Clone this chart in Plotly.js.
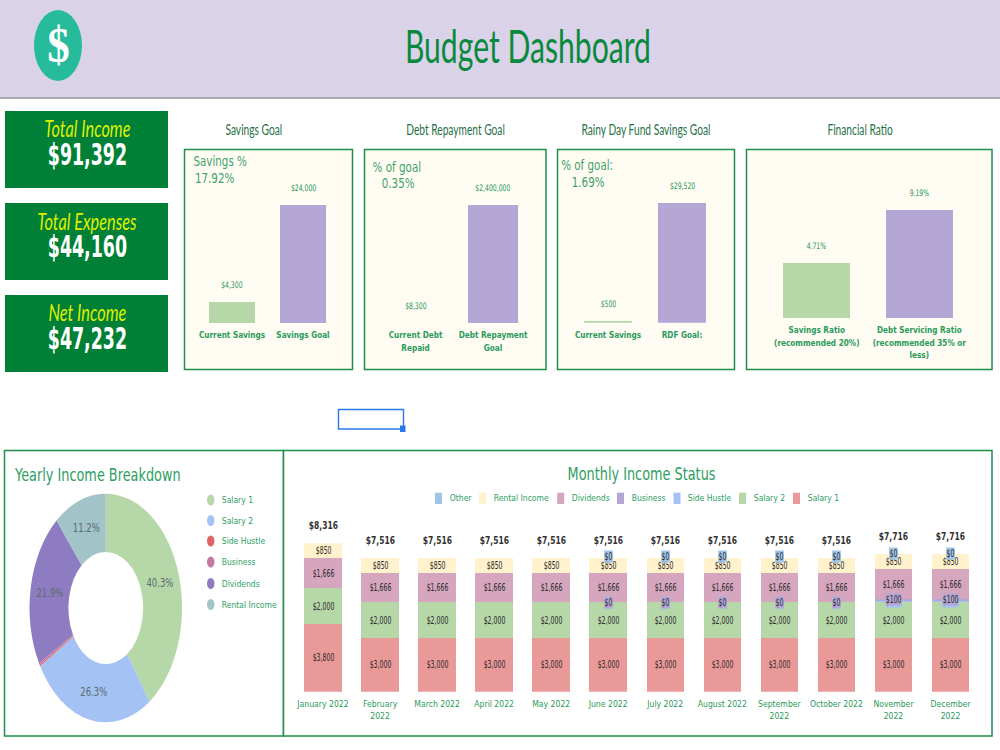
<!DOCTYPE html>
<html><head><meta charset="utf-8">
<script src="https://cdn.plot.ly/plotly-3.0.1.min.js"></script>
<style>html,body{margin:0;padding:0;background:#fff}#c{width:1000px;height:750px}</style>
</head><body><div id="c"></div>
<script>
// ---- data ----
const savingsCats = ['Current Savings','Savings Goal'];
const savingsVals = [4300,24000];
const savingsText = ['$4,300','$24,000'];
const debtCats = ['Current Debt<br>Repaid','Debt Repayment<br>Goal'];
const debtVals = [8300,2400000];
const debtText = ['$8,300','$2,400,000'];
const rdfCats = ['Current Savings','RDF Goal:'];
const rdfVals = [500,29520];
const rdfText = ['$500','$29,520'];
const ratioCats = ['Savings Ratio<br>(recommended 20%)','Debt Servicing Ratio<br>(recommended 35% or<br>less)'];
const ratioVals = [4.71,9.19];
const ratioText = ['4.71%','9.19%'];

const pieLabels = ['Salary 1','Salary 2','Side Hustle','Business','Dividends','Rental Income'];
const pieVals = [36800,24000,200,200,19992,10200];
const pieText = ['40.3%','26.3%','','','21.9%','11.2%'];
const pieColors = ['#B6D7A8','#A4C2F4','#E06666','#C27BA0','#8E7CC3','#A2C4C9'];

const months = ['January 2022','February<br>2022','March 2022','April 2022','May 2022','June 2022','July 2022','August 2022','September<br>2022','October 2022','November<br>2022','December<br>2022'];
const salary1 = [3800,3000,3000,3000,3000,3000,3000,3000,3000,3000,3000,3000];
const salary2 = [2000,2000,2000,2000,2000,2000,2000,2000,2000,2000,2000,2000];
const sideHustle = [null,null,null,null,null,0,0,0,0,0,100,100];
const business = [null,null,null,null,null,0,0,0,0,0,100,100];
const dividends = [1666,1666,1666,1666,1666,1666,1666,1666,1666,1666,1666,1666];
const rental = [850,850,850,850,850,850,850,850,850,850,850,850];
const other = [null,null,null,null,null,0,0,0,0,0,0,0];
const totals = [8316,7516,7516,7516,7516,7516,7516,7516,7516,7516,7716,7716];

// ---- style ----
const GREEN='#1F8F4E', TXT='#2E9E5F', PANEL='#FFFCF3';
const F='"DejaVu Sans", Verdana, sans-serif', C='Lato, sans-serif';
const W=1000,H=750;
const px=x=>x/W, py=y=>1-y/H;
const money=v=>'$'+v.toLocaleString('en-US');

const traces=[], shapes=[], annotations=[], annSx=[];
const layout={width:W,height:H,margin:{l:0,r:0,t:0,b:0,pad:0},paper_bgcolor:'rgba(0,0,0,0)',plot_bgcolor:'rgba(0,0,0,0)',showlegend:false,bargap:0,shapes,annotations,font:{family:F}};

function addAnn(a,sx){annotations.push(a);annSx.push(sx||1);}
function rect(x0,y0,x1,y1,fill,line,lw,layer){shapes.push({type:'rect',xref:'paper',yref:'paper',x0:px(x0),x1:px(x1),y0:py(y1),y1:py(y0),fillcolor:fill,line:{color:line||'rgba(0,0,0,0)',width:lw||0},layer:layer||'below'});}
function label(x,y,text,font,sx,extra){addAnn(Object.assign({xref:'paper',yref:'paper',x:px(x),y:py(y),text,showarrow:false,xanchor:'center',yanchor:'middle',font},extra||{}),sx);}

// header
rect(0,0,1000,97,'#DAD2E9');
rect(0,97,1000,99,'#A9A9A9');
shapes.push({type:'circle',xref:'paper',yref:'paper',x0:px(34),x1:px(82),y0:py(81),y1:py(10),fillcolor:'#26BC9B',line:{width:0},layer:'below'});
label(58,45,'$',{size:50,color:'#FFFFFF',family:'"Liberation Serif", serif',weight:'bold'},0.9);
label(528,45,'Budget Dashboard',{size:46,color:'#078A3C',family:C},0.655);

// KPI tiles
const tiles=[['Total Income','$91,392',111,188,128,154],['Total Expenses','$44,160',203,280,220,246],['Net Income','$47,232',295,372,312,338]];
tiles.forEach(t=>{rect(5,t[2],168,t[3],'#007F36');
  label(87,t[4],t[0],{size:24,color:'#DDF000',family:C,style:'italic'},0.68);
  label(87,t[5],t[1],{size:30,color:'#FFFFFF',family:F,weight:'bold'},0.58);
});

// goal panels
function axisX(dom,cats,n,size,weight,len){layout['xaxis'+n]={domain:[px(dom[0]),px(dom[1])],anchor:'y'+n,type:'category',categoryorder:'array',categoryarray:cats,range:[-0.5,(n===5?11.5:1.5)],showgrid:false,zeroline:false,showline:false,ticks:'outside',ticklen:len,tickcolor:'rgba(0,0,0,0)',tickangle:0,tickfont:{size,color:'#2A9A5A',family:F,weight}};}
function panel(id,title,titleX,cats,vals,texts,box,dom,base,top,ymax,colors,note,noteX,noteY){
  rect(box[0],box[1],box[2],box[3],PANEL,GREEN,1.5);
  label(titleX,129,title,{size:15,color:'#1F6F45',family:C},0.68);
  const n=id===1?'':id;
  traces.push({type:'bar',x:cats,y:vals,marker:{color:colors,line:{width:0}},width:[0.65,0.65],xaxis:'x'+n,yaxis:'y'+n,hoverinfo:'skip'});
  axisX(dom,cats,n,9.5,'bold',3);
  layout['yaxis'+n]={domain:[py(base),py(top)],anchor:'x'+n,range:[0,ymax],visible:false,fixedrange:true};
  vals.forEach((v,i)=>addAnn({xref:'x'+n,yref:'y'+n,x:cats[i],y:v,text:texts[i],showarrow:false,yanchor:'bottom',yshift:10,font:{size:9,color:'#2A9A5A',family:F}},0.68));
  if(note) note.forEach((s,i)=>label(noteX[i],noteY[i],s,{size:14,color:'#3FA36B',family:F},0.74));
}
const GRN='#B6D7A8',PUR='#B4A7D6';
panel(1,'Savings Goal',253.5,savingsCats,savingsVals,savingsText,[184.5,149.5,352.5,369.5],[196.5,338.5],323,205,24000,[GRN,PUR],['Savings %','17.92%'],[220,214.5],[161,178]);
panel(2,'Debt Repayment Goal',455.5,debtCats,debtVals,debtText,[364.5,149.5,546,369.5],[376.75,531.75],323,205,2400000,[GRN,PUR],['% of goal','0.35%'],[396.5,397.5],[167,183]);
panel(3,'Rainy Day Fund Savings Goal',645.5,rdfCats,rdfVals,rdfText,[557.5,149.5,734.5,369.5],[571,719],322.7,202.7,29520,[GRN,PUR],['% of goal:','1.69%'],[586.5,588],[165,182]);
panel(4,'Financial Ratio',860,ratioCats,ratioVals,ratioText,[746.5,149.5,992,369.5],[765.5,970.5],318,210,9.19,[GRN,PUR],null);

// selected cell
rect(338.5,409.5,403.5,429,'rgba(0,0,0,0)','#2A78E8',1.4,'above');
rect(400,425.5,405.5,432,'#2A78E8',null,0,'above');

// pie panel
rect(4.5,450.5,283.5,736,'#FFFFFF',GREEN,1.5);
rect(283.5,450.5,992,736,'#FFFFFF',GREEN,1.5);
label(97,474,'Yearly Income Breakdown',{size:18,color:TXT,family:F},0.715);
traces.push({type:'pie',labels:pieLabels,values:pieVals,text:pieText,textinfo:'text',textposition:'inside',insidetextorientation:'horizontal',hole:0.49,sort:false,direction:'clockwise',rotation:0,marker:{colors:pieColors,line:{width:0}},domain:{x:[px(29.5),px(182)],y:[py(722),py(494)]},textfont:{size:8.5,color:'#5B6B70',family:F},hoverinfo:'skip',showlegend:false});
const legendY=[500,520.5,541,562,583.5,604.5];
pieLabels.forEach((l,i)=>{
  shapes.push({type:'circle',xref:'paper',yref:'paper',x0:px(207),x1:px(214.5),y0:py(legendY[i]+5.5),y1:py(legendY[i]-5.5),fillcolor:pieColors[i],line:{width:0}});
  label(219.5,legendY[i],l,{size:9,color:TXT,family:F},0.85,{xanchor:'left'});
});

// monthly stacked bars
label(641,473,'Monthly Income Status',{size:18,color:TXT,family:F},0.715);
const stackDefs=[['Salary 1',salary1,'#EA9999',false],['Salary 2',salary2,'#B6D7A8',false],['Side Hustle',sideHustle,'#A4C2F4',true],['Business',business,'#B4A7D6',true],['Dividends',dividends,'#D5A6BD',false],['Rental Income',rental,'#FFF2CC',false],['Other',other,'#9FC5E8',true]];
stackDefs.forEach(d=>traces.push({type:'bar',name:d[0],x:months,y:d[1],marker:{color:d[2],line:{width:0}},width:0.657,xaxis:'x5',yaxis:'y5',hoverinfo:'skip'}));
layout.barmode='stack';
axisX([294.5,979],months,5,9,'normal',4);
layout.yaxis5={domain:[py(691.7),py(543.3)],anchor:'x5',range:[0,8316],visible:false,fixedrange:true};
months.forEach((m,i)=>{
  let c=0;
  stackDefs.forEach(d=>{const v=d[1][i]; if(v===null) return;
    const a={xref:'x5',yref:'y5',x:m,y:c+v/2,text:money(v),showarrow:false,yanchor:'middle',font:{size:10,color:'#2B2B2B',family:F}};
    if(d[3]){a.bgcolor=d[2];a.borderpad=0;}
    if(d[0]==='Other'){a.yshift=1;}
    addAnn(a,0.62); c+=v;});
  addAnn({xref:'x5',yref:'y5',x:m,y:totals[i],text:money(totals[i]),showarrow:false,yanchor:'bottom',yshift:10,font:{size:10,color:'#333333',family:F,weight:'bold'}},0.76);
});
const stackLegend=[['Other',438.5,'#9FC5E8'],['Rental Income',482.7,'#FFF2CC'],['Dividends',560.7,'#D5A6BD'],['Business',620.5,'#B4A7D6'],['Side Hustle',677,'#A4C2F4'],['Salary 2',742.5,'#B6D7A8'],['Salary 1',796.5,'#EA9999']];
stackLegend.forEach(l=>{rect(l[1]-3.5,492.7,l[1]+3.5,504,l[2]);label(l[1]+9,498.5,l[0],{size:9,color:TXT,family:F},0.85,{xanchor:'left'});});

function squeeze(el,sx,sy,leftOrigin){
  const b=el.getBBox(), cx=leftOrigin?b.x:b.x+b.width/2, cy=b.y+b.height/2;
  const old=el.getAttribute('transform')||'';
  el.setAttribute('transform',`${old} translate(${cx} ${cy}) scale(${sx} ${sy}) translate(${-cx} ${-cy})`);
}
Plotly.newPlot('c',traces,layout,{displayModeBar:false,staticPlot:true}).then(gd=>{
  // the reference is a horizontally squeezed picture: reproduce its condensed text and oval doughnut
  gd.querySelectorAll('.annotation').forEach(g=>{
    const i=+g.getAttribute('data-index');
    if(annSx[i]!==1) squeeze(g,annSx[i],1,annotations[i].xanchor==='left');
  });
  gd.querySelectorAll('.xaxislayer-above text').forEach(t=>{
    squeeze(t,t.textContent.includes('2022')?0.86:0.77,1,false);
  });
  const cy=608;
  gd.querySelector('.pielayer').setAttribute('transform',`translate(0 ${cy}) scale(1 1.5) translate(0 ${-cy})`);
});
</script></body></html>
